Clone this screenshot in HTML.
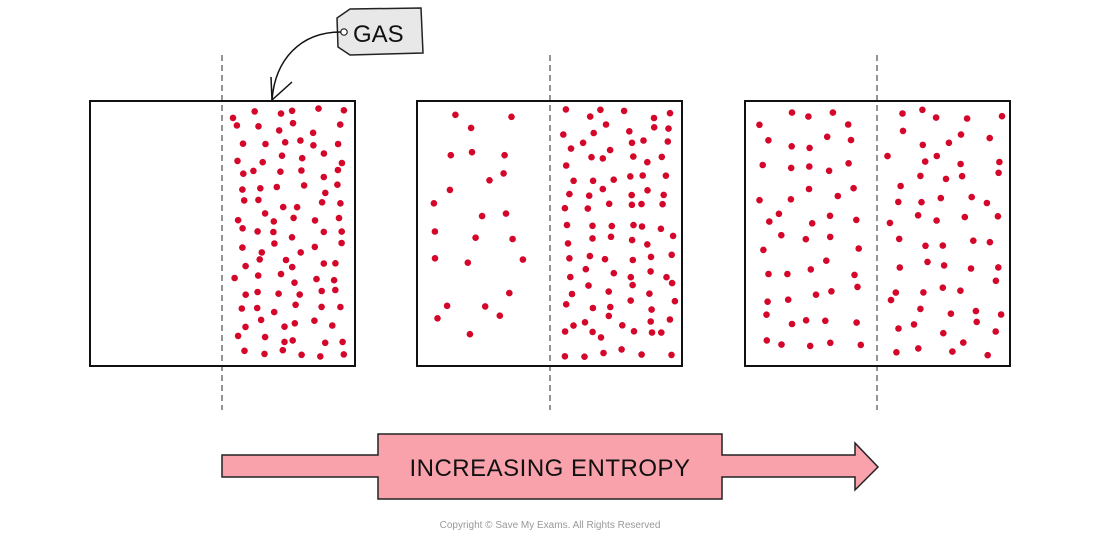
<!DOCTYPE html>
<html><head><meta charset="utf-8"><style>
html,body{margin:0;padding:0;background:#fff;width:1100px;height:537px;overflow:hidden}
svg{display:block}
</style></head><body>
<svg id="s" width="1100" height="537" viewBox="0 0 1100 537" xmlns="http://www.w3.org/2000/svg">
<g fill="none" stroke="#7a7a7a" stroke-width="1.6" stroke-dasharray="6,4">
<line x1="222" y1="55" x2="222" y2="410"/>
<line x1="550" y1="55" x2="550" y2="410"/>
<line x1="877" y1="55" x2="877" y2="410"/>
</g>
<g fill="none" stroke="#111" stroke-width="2">
<rect x="90" y="101" width="265" height="265"/>
<rect x="417" y="101" width="265" height="265"/>
<rect x="745" y="101" width="265" height="265"/>
</g>
<g id="dots" fill="#d4062a"></g>
<path d="M350 9 L421 8 L423 53 L350 55 L338 47 L337 18 Z" fill="#e8e8e8" stroke="#222" stroke-width="1.5"/>
<circle cx="344" cy="32" r="3.2" fill="#fff" stroke="#222" stroke-width="1.2"/>
<text x="353" y="42" font-family="Liberation Sans, sans-serif" font-size="24" fill="#111">GAS</text>
<path d="M341 32 C300 32 275 60 272 100" fill="none" stroke="#111" stroke-width="1.5"/>
<path d="M271 77 L272 100 L292 82" fill="none" stroke="#111" stroke-width="1.5"/>
<path d="M222 455 L378 455 L378 434 L722 434 L722 455 L855 455 L855 443 L878 467 L855 490 L855 477 L722 477 L722 499 L378 499 L378 477 L222 477 Z" fill="#f9a2ac" stroke="#222" stroke-width="1.5"/>
<text x="550" y="476" text-anchor="middle" font-family="Liberation Sans, sans-serif" font-size="24" fill="#111" letter-spacing="0.5">INCREASING  ENTROPY</text>
<text x="550" y="528" text-anchor="middle" font-family="Liberation Sans, sans-serif" font-size="10" fill="#999">Copyright © Save My Exams. All Rights Reserved</text>
</svg>
<script>
var g=document.getElementById('dots');var seed=7;
function r(){seed=(seed*16807)%2147483647;return seed/2147483647;}
function fill(x0,x1,y0,y1,cols,rows){
 var cw=(x1-x0)/cols,rh=(y1-y0)/rows;
 for(var i=0;i<cols;i++)for(var j=0;j<rows;j++){
  var c=document.createElementNS('http://www.w3.org/2000/svg','circle');
  c.setAttribute('cx',(x0+cw*(i+0.15+0.7*r())).toFixed(1));
  c.setAttribute('cy',(y0+rh*(j+0.15+0.7*r())).toFixed(1));
  c.setAttribute('r','3.3');g.appendChild(c);}
}
fill(230,348,106,360,6,17);
fill(428,528,110,340,3,8);
fill(557,678,106,360,6,16);
fill(752,866,106,356,5,10);
fill(882,1006,106,360,5,12);
</script>
</body></html>
